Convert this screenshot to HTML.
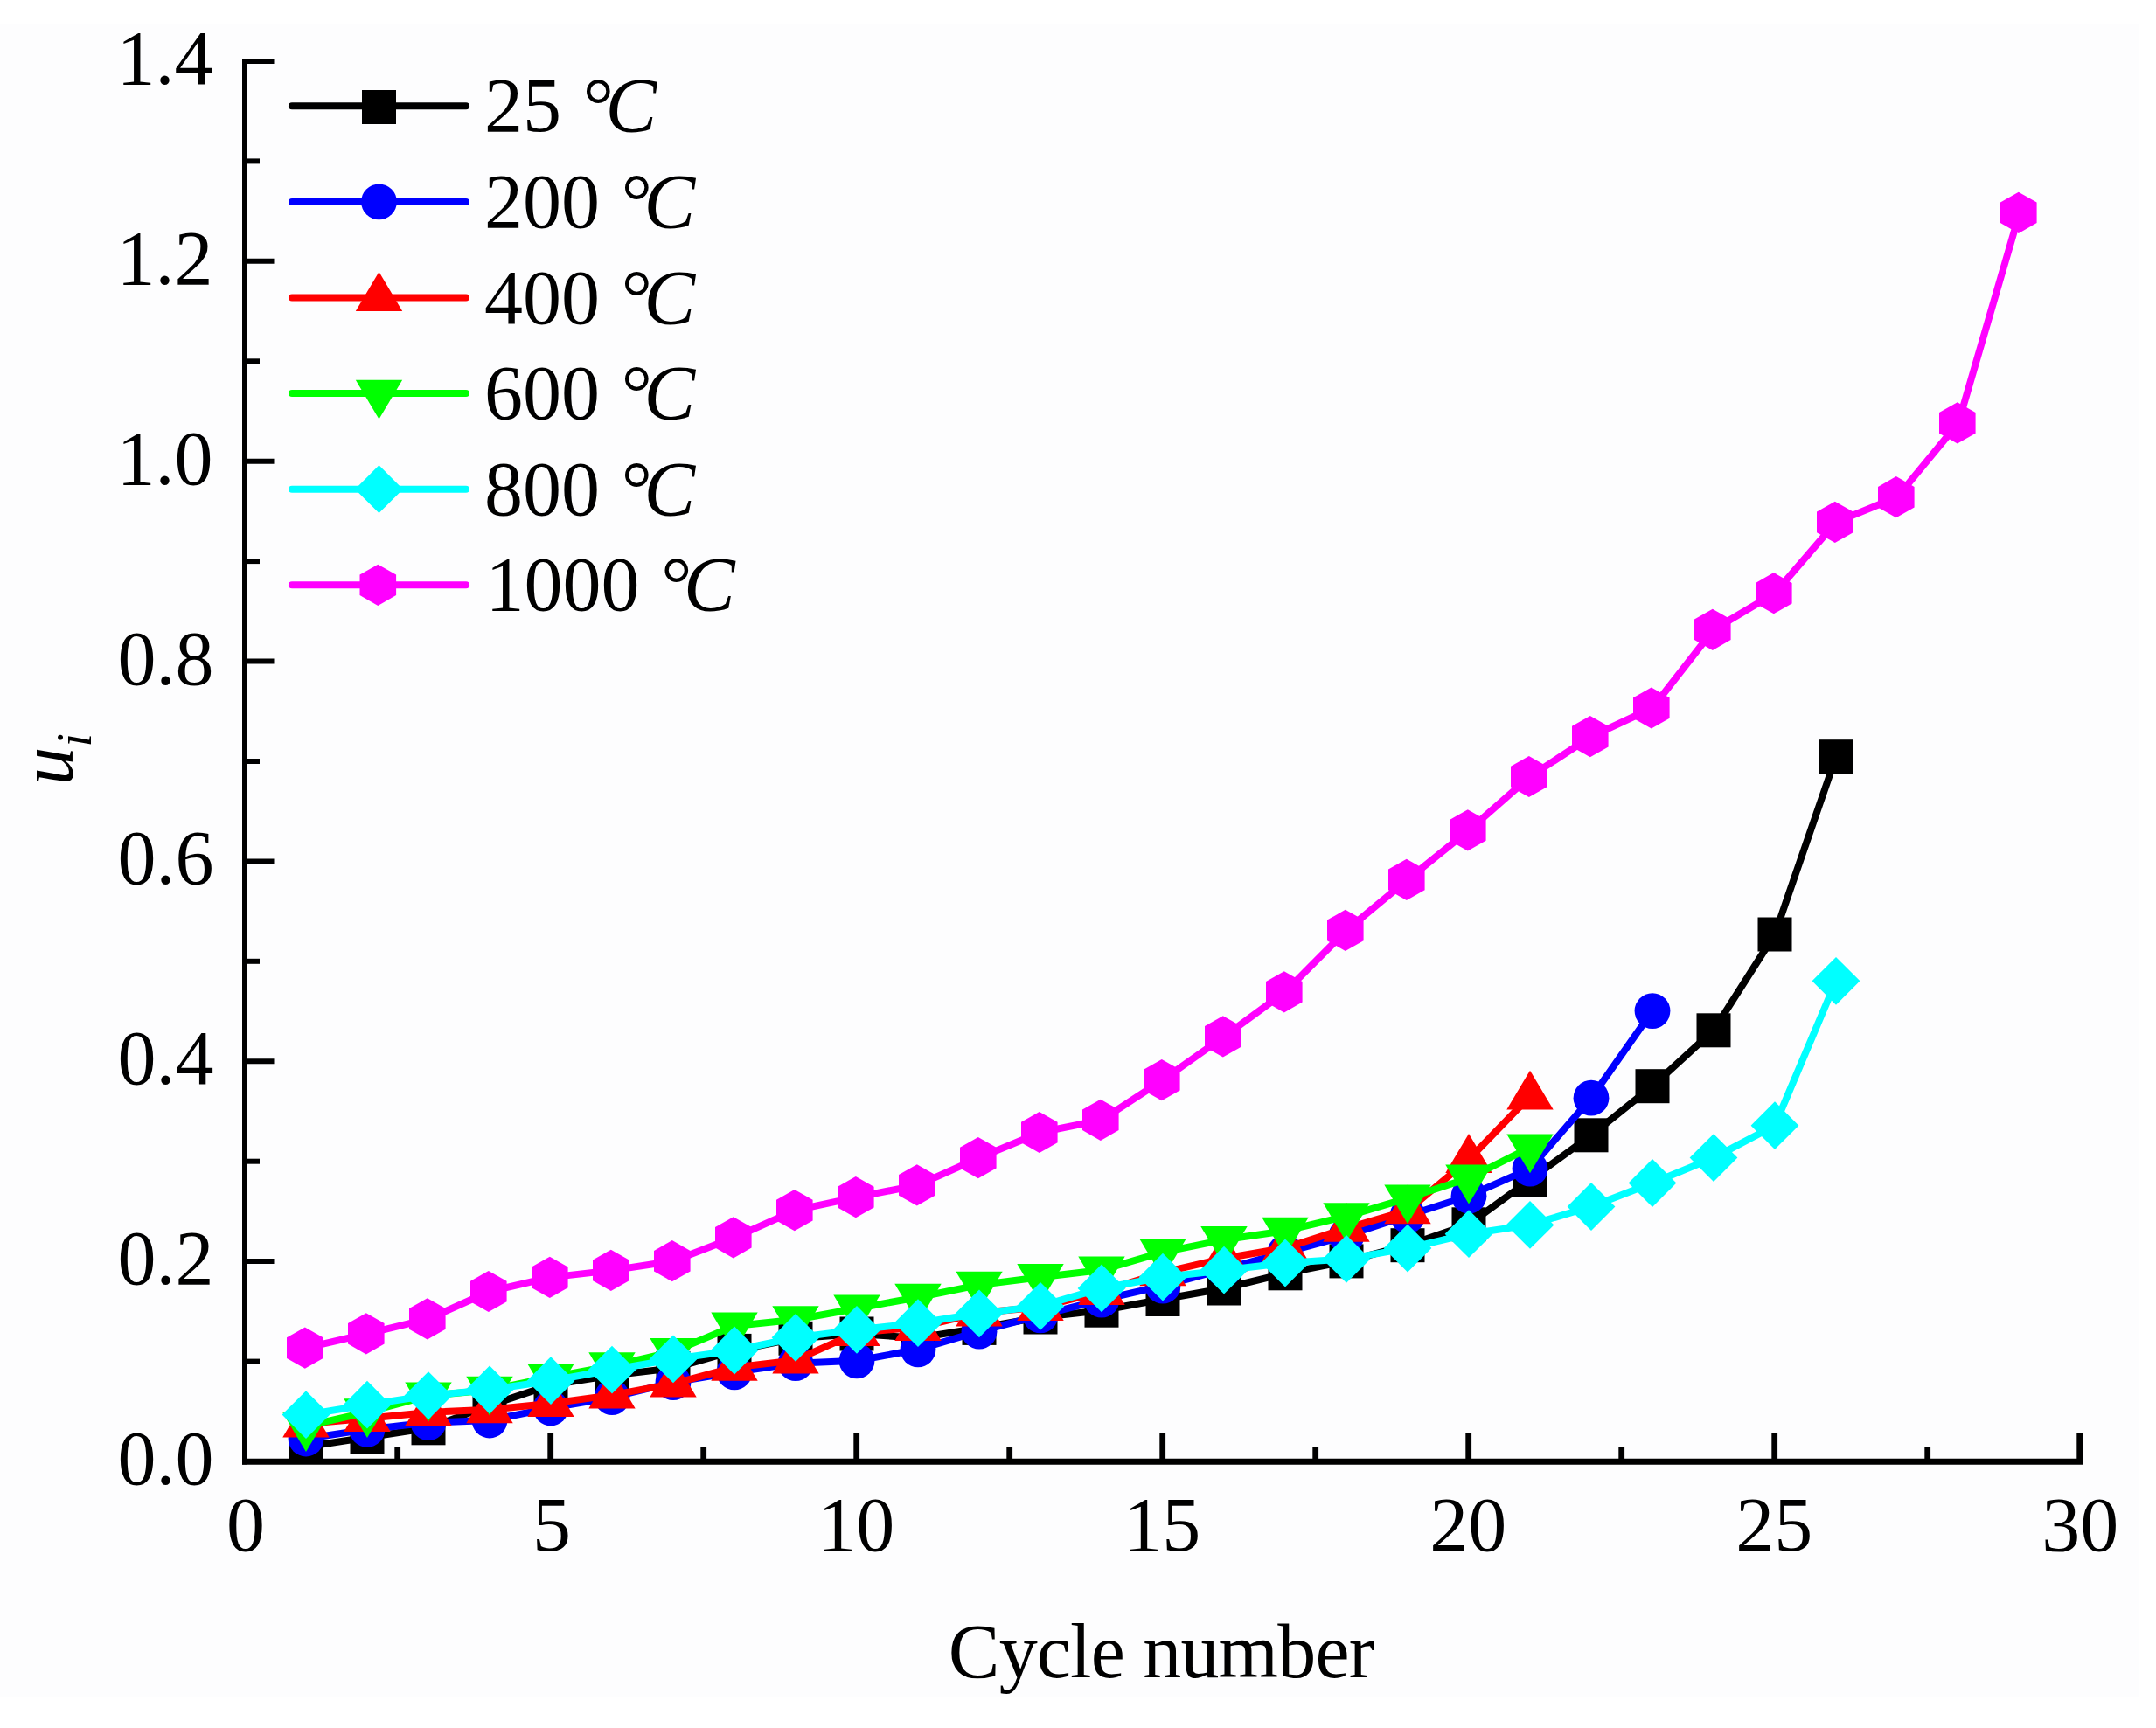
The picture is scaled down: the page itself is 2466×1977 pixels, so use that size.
<!DOCTYPE html>
<html lang="en"><head><meta charset="utf-8"><title>Cycle number vs u_i</title>
<style>
html,body{margin:0;padding:0;background:#ffffff;}
body{width:2466px;height:1977px;overflow:hidden;}
svg{display:block;}
text{font-family:"Liberation Serif",serif;fill:#000;}
.t{font-size:88px;}
.it{font-style:italic;}
</style></head><body>
<svg width="2466" height="1977" viewBox="0 0 2466 1977">
<rect x="0" y="0" width="2466" height="1977" fill="#ffffff"/>
<rect x="0" y="28" width="2446" height="1914" fill="#fdfdfe"/>

<g><polyline points="350.0,1655.2 420.0,1644.5 490.0,1633.8 560.0,1607.9 630.0,1584.5 700.0,1573.5 770.0,1565.4 840.0,1545.4 910.0,1531.3 980.0,1526.0 1050.0,1530.7 1120.0,1519.4 1190.0,1507.0 1260.0,1499.2 1330.0,1486.5 1400.0,1474.0 1470.0,1456.8 1540.0,1442.9 1610.0,1424.7 1680.0,1400.8 1750.0,1349.7 1820.0,1298.8 1890.0,1242.7 1960.0,1178.8 2030.0,1069.0 2100.0,865.7" fill="none" stroke="#000000" stroke-width="8" stroke-linejoin="round" stroke-linecap="round"/>
<rect x="330.5" y="1635.7" width="39.0" height="39.0" fill="#000000"/>
<rect x="400.5" y="1625.0" width="39.0" height="39.0" fill="#000000"/>
<rect x="470.5" y="1614.3" width="39.0" height="39.0" fill="#000000"/>
<rect x="540.5" y="1588.4" width="39.0" height="39.0" fill="#000000"/>
<rect x="610.5" y="1565.0" width="39.0" height="39.0" fill="#000000"/>
<rect x="680.5" y="1554.0" width="39.0" height="39.0" fill="#000000"/>
<rect x="750.5" y="1545.9" width="39.0" height="39.0" fill="#000000"/>
<rect x="820.5" y="1525.9" width="39.0" height="39.0" fill="#000000"/>
<rect x="890.5" y="1511.8" width="39.0" height="39.0" fill="#000000"/>
<rect x="960.5" y="1506.5" width="39.0" height="39.0" fill="#000000"/>
<rect x="1030.5" y="1511.2" width="39.0" height="39.0" fill="#000000"/>
<rect x="1100.5" y="1499.9" width="39.0" height="39.0" fill="#000000"/>
<rect x="1170.5" y="1487.5" width="39.0" height="39.0" fill="#000000"/>
<rect x="1240.5" y="1479.7" width="39.0" height="39.0" fill="#000000"/>
<rect x="1310.5" y="1467.0" width="39.0" height="39.0" fill="#000000"/>
<rect x="1380.5" y="1454.5" width="39.0" height="39.0" fill="#000000"/>
<rect x="1450.5" y="1437.3" width="39.0" height="39.0" fill="#000000"/>
<rect x="1520.5" y="1423.4" width="39.0" height="39.0" fill="#000000"/>
<rect x="1590.5" y="1405.2" width="39.0" height="39.0" fill="#000000"/>
<rect x="1660.5" y="1381.3" width="39.0" height="39.0" fill="#000000"/>
<rect x="1730.5" y="1330.2" width="39.0" height="39.0" fill="#000000"/>
<rect x="1800.5" y="1279.3" width="39.0" height="39.0" fill="#000000"/>
<rect x="1870.5" y="1223.2" width="39.0" height="39.0" fill="#000000"/>
<rect x="1940.5" y="1159.3" width="39.0" height="39.0" fill="#000000"/>
<rect x="2010.5" y="1049.5" width="39.0" height="39.0" fill="#000000"/>
<rect x="2080.5" y="846.2" width="39.0" height="39.0" fill="#000000"/>
</g>
<g><polyline points="350.0,1646.0 420.0,1635.4 490.0,1627.6 560.0,1625.0 630.0,1610.8 700.0,1598.7 770.0,1581.6 840.0,1569.9 910.0,1559.7 980.0,1556.8 1050.0,1543.8 1120.0,1523.2 1190.0,1504.8 1260.0,1487.1 1330.0,1471.1 1400.0,1452.1 1470.0,1432.8 1540.0,1413.7 1610.0,1390.8 1680.0,1368.2 1750.0,1337.1 1820.0,1256.2 1890.0,1156.6" fill="none" stroke="#0000ff" stroke-width="8" stroke-linejoin="round" stroke-linecap="round"/>
<circle cx="350.0" cy="1646.0" r="20.4" fill="#0000ff"/>
<circle cx="420.0" cy="1635.4" r="20.4" fill="#0000ff"/>
<circle cx="490.0" cy="1627.6" r="20.4" fill="#0000ff"/>
<circle cx="560.0" cy="1625.0" r="20.4" fill="#0000ff"/>
<circle cx="630.0" cy="1610.8" r="20.4" fill="#0000ff"/>
<circle cx="700.0" cy="1598.7" r="20.4" fill="#0000ff"/>
<circle cx="770.0" cy="1581.6" r="20.4" fill="#0000ff"/>
<circle cx="840.0" cy="1569.9" r="20.4" fill="#0000ff"/>
<circle cx="910.0" cy="1559.7" r="20.4" fill="#0000ff"/>
<circle cx="980.0" cy="1556.8" r="20.4" fill="#0000ff"/>
<circle cx="1050.0" cy="1543.8" r="20.4" fill="#0000ff"/>
<circle cx="1120.0" cy="1523.2" r="20.4" fill="#0000ff"/>
<circle cx="1190.0" cy="1504.8" r="20.4" fill="#0000ff"/>
<circle cx="1260.0" cy="1487.1" r="20.4" fill="#0000ff"/>
<circle cx="1330.0" cy="1471.1" r="20.4" fill="#0000ff"/>
<circle cx="1400.0" cy="1452.1" r="20.4" fill="#0000ff"/>
<circle cx="1470.0" cy="1432.8" r="20.4" fill="#0000ff"/>
<circle cx="1540.0" cy="1413.7" r="20.4" fill="#0000ff"/>
<circle cx="1610.0" cy="1390.8" r="20.4" fill="#0000ff"/>
<circle cx="1680.0" cy="1368.2" r="20.4" fill="#0000ff"/>
<circle cx="1750.0" cy="1337.1" r="20.4" fill="#0000ff"/>
<circle cx="1820.0" cy="1256.2" r="20.4" fill="#0000ff"/>
<circle cx="1890.0" cy="1156.6" r="20.4" fill="#0000ff"/>
</g>
<g><polyline points="350.0,1629.0 420.0,1622.7 490.0,1615.9 560.0,1612.8 630.0,1605.7 700.0,1596.1 770.0,1583.1 840.0,1564.4 910.0,1556.2 980.0,1524.7 1050.0,1518.5 1120.0,1502.0 1190.0,1495.5 1260.0,1477.6 1330.0,1455.8 1400.0,1439.7 1470.0,1427.7 1540.0,1405.3 1610.0,1384.9 1680.0,1326.5 1750.0,1254.1" fill="none" stroke="#ff0000" stroke-width="8" stroke-linejoin="round" stroke-linecap="round"/>
<polygon points="350.0,1599.6 376.7,1644.4 323.3,1644.4" fill="#ff0000"/>
<polygon points="420.0,1593.3 446.7,1638.1 393.3,1638.1" fill="#ff0000"/>
<polygon points="490.0,1586.5 516.7,1631.3 463.3,1631.3" fill="#ff0000"/>
<polygon points="560.0,1583.4 586.7,1628.2 533.3,1628.2" fill="#ff0000"/>
<polygon points="630.0,1576.3 656.7,1621.1 603.3,1621.1" fill="#ff0000"/>
<polygon points="700.0,1566.7 726.7,1611.5 673.3,1611.5" fill="#ff0000"/>
<polygon points="770.0,1553.7 796.7,1598.5 743.3,1598.5" fill="#ff0000"/>
<polygon points="840.0,1535.0 866.7,1579.8 813.3,1579.8" fill="#ff0000"/>
<polygon points="910.0,1526.8 936.7,1571.6 883.3,1571.6" fill="#ff0000"/>
<polygon points="980.0,1495.3 1006.7,1540.1 953.3,1540.1" fill="#ff0000"/>
<polygon points="1050.0,1489.1 1076.7,1533.9 1023.3,1533.9" fill="#ff0000"/>
<polygon points="1120.0,1472.6 1146.7,1517.4 1093.3,1517.4" fill="#ff0000"/>
<polygon points="1190.0,1466.1 1216.7,1510.9 1163.3,1510.9" fill="#ff0000"/>
<polygon points="1260.0,1448.2 1286.7,1493.0 1233.3,1493.0" fill="#ff0000"/>
<polygon points="1330.0,1426.4 1356.7,1471.2 1303.3,1471.2" fill="#ff0000"/>
<polygon points="1400.0,1410.3 1426.7,1455.1 1373.3,1455.1" fill="#ff0000"/>
<polygon points="1470.0,1398.3 1496.7,1443.1 1443.3,1443.1" fill="#ff0000"/>
<polygon points="1540.0,1375.9 1566.7,1420.7 1513.3,1420.7" fill="#ff0000"/>
<polygon points="1610.0,1355.5 1636.7,1400.3 1583.3,1400.3" fill="#ff0000"/>
<polygon points="1680.0,1297.1 1706.7,1341.9 1653.3,1341.9" fill="#ff0000"/>
<polygon points="1750.0,1224.7 1776.7,1269.5 1723.3,1269.5" fill="#ff0000"/>
</g>
<g><polyline points="350.0,1631.6 420.0,1615.6 490.0,1597.0 560.0,1590.2 630.0,1575.6 700.0,1562.7 770.0,1546.4 840.0,1516.9 910.0,1509.7 980.0,1497.0 1050.0,1484.2 1120.0,1470.1 1190.0,1461.3 1260.0,1453.0 1330.0,1432.7 1400.0,1418.3 1470.0,1408.2 1540.0,1391.6 1610.0,1370.8 1680.0,1348.0 1750.0,1312.9" fill="none" stroke="#00ff00" stroke-width="8" stroke-linejoin="round" stroke-linecap="round"/>
<polygon points="350.0,1661.0 376.7,1616.2 323.3,1616.2" fill="#00ff00"/>
<polygon points="420.0,1645.0 446.7,1600.2 393.3,1600.2" fill="#00ff00"/>
<polygon points="490.0,1626.4 516.7,1581.6 463.3,1581.6" fill="#00ff00"/>
<polygon points="560.0,1619.6 586.7,1574.8 533.3,1574.8" fill="#00ff00"/>
<polygon points="630.0,1605.0 656.7,1560.2 603.3,1560.2" fill="#00ff00"/>
<polygon points="700.0,1592.1 726.7,1547.3 673.3,1547.3" fill="#00ff00"/>
<polygon points="770.0,1575.8 796.7,1531.0 743.3,1531.0" fill="#00ff00"/>
<polygon points="840.0,1546.3 866.7,1501.5 813.3,1501.5" fill="#00ff00"/>
<polygon points="910.0,1539.1 936.7,1494.3 883.3,1494.3" fill="#00ff00"/>
<polygon points="980.0,1526.4 1006.7,1481.6 953.3,1481.6" fill="#00ff00"/>
<polygon points="1050.0,1513.6 1076.7,1468.8 1023.3,1468.8" fill="#00ff00"/>
<polygon points="1120.0,1499.5 1146.7,1454.7 1093.3,1454.7" fill="#00ff00"/>
<polygon points="1190.0,1490.7 1216.7,1445.9 1163.3,1445.9" fill="#00ff00"/>
<polygon points="1260.0,1482.4 1286.7,1437.6 1233.3,1437.6" fill="#00ff00"/>
<polygon points="1330.0,1462.1 1356.7,1417.3 1303.3,1417.3" fill="#00ff00"/>
<polygon points="1400.0,1447.7 1426.7,1402.9 1373.3,1402.9" fill="#00ff00"/>
<polygon points="1470.0,1437.6 1496.7,1392.8 1443.3,1392.8" fill="#00ff00"/>
<polygon points="1540.0,1421.0 1566.7,1376.2 1513.3,1376.2" fill="#00ff00"/>
<polygon points="1610.0,1400.2 1636.7,1355.4 1583.3,1355.4" fill="#00ff00"/>
<polygon points="1680.0,1377.4 1706.7,1332.6 1653.3,1332.6" fill="#00ff00"/>
<polygon points="1750.0,1342.3 1776.7,1297.5 1723.3,1297.5" fill="#00ff00"/>
</g>
<g><polyline points="350.0,1618.6 420.0,1607.2 490.0,1596.6 560.0,1590.0 630.0,1579.7 700.0,1567.2 770.0,1554.9 840.0,1545.0 910.0,1530.3 980.0,1521.4 1050.0,1513.7 1120.0,1502.8 1190.0,1494.4 1260.0,1473.9 1330.0,1461.2 1400.0,1453.2 1470.0,1445.0 1540.0,1440.4 1610.0,1428.1 1680.0,1411.7 1750.0,1401.4 1820.0,1380.5 1890.0,1353.5 1960.0,1324.6 2030.0,1287.7 2100.0,1122.3" fill="none" stroke="#00ffff" stroke-width="8" stroke-linejoin="round" stroke-linecap="round"/>
<polygon points="350.0,1591.2 377.4,1618.6 350.0,1646.0 322.6,1618.6" fill="#00ffff"/>
<polygon points="420.0,1579.8 447.4,1607.2 420.0,1634.6 392.6,1607.2" fill="#00ffff"/>
<polygon points="490.0,1569.2 517.4,1596.6 490.0,1624.0 462.6,1596.6" fill="#00ffff"/>
<polygon points="560.0,1562.6 587.4,1590.0 560.0,1617.4 532.6,1590.0" fill="#00ffff"/>
<polygon points="630.0,1552.3 657.4,1579.7 630.0,1607.1 602.6,1579.7" fill="#00ffff"/>
<polygon points="700.0,1539.8 727.4,1567.2 700.0,1594.6 672.6,1567.2" fill="#00ffff"/>
<polygon points="770.0,1527.5 797.4,1554.9 770.0,1582.3 742.6,1554.9" fill="#00ffff"/>
<polygon points="840.0,1517.6 867.4,1545.0 840.0,1572.4 812.6,1545.0" fill="#00ffff"/>
<polygon points="910.0,1502.9 937.4,1530.3 910.0,1557.7 882.6,1530.3" fill="#00ffff"/>
<polygon points="980.0,1494.0 1007.4,1521.4 980.0,1548.8 952.6,1521.4" fill="#00ffff"/>
<polygon points="1050.0,1486.3 1077.4,1513.7 1050.0,1541.1 1022.6,1513.7" fill="#00ffff"/>
<polygon points="1120.0,1475.4 1147.4,1502.8 1120.0,1530.2 1092.6,1502.8" fill="#00ffff"/>
<polygon points="1190.0,1467.0 1217.4,1494.4 1190.0,1521.8 1162.6,1494.4" fill="#00ffff"/>
<polygon points="1260.0,1446.5 1287.4,1473.9 1260.0,1501.3 1232.6,1473.9" fill="#00ffff"/>
<polygon points="1330.0,1433.8 1357.4,1461.2 1330.0,1488.6 1302.6,1461.2" fill="#00ffff"/>
<polygon points="1400.0,1425.8 1427.4,1453.2 1400.0,1480.6 1372.6,1453.2" fill="#00ffff"/>
<polygon points="1470.0,1417.6 1497.4,1445.0 1470.0,1472.4 1442.6,1445.0" fill="#00ffff"/>
<polygon points="1540.0,1413.0 1567.4,1440.4 1540.0,1467.8 1512.6,1440.4" fill="#00ffff"/>
<polygon points="1610.0,1400.7 1637.4,1428.1 1610.0,1455.5 1582.6,1428.1" fill="#00ffff"/>
<polygon points="1680.0,1384.3 1707.4,1411.7 1680.0,1439.1 1652.6,1411.7" fill="#00ffff"/>
<polygon points="1750.0,1374.0 1777.4,1401.4 1750.0,1428.8 1722.6,1401.4" fill="#00ffff"/>
<polygon points="1820.0,1353.1 1847.4,1380.5 1820.0,1407.9 1792.6,1380.5" fill="#00ffff"/>
<polygon points="1890.0,1326.1 1917.4,1353.5 1890.0,1380.9 1862.6,1353.5" fill="#00ffff"/>
<polygon points="1960.0,1297.2 1987.4,1324.6 1960.0,1352.0 1932.6,1324.6" fill="#00ffff"/>
<polygon points="2030.0,1260.3 2057.4,1287.7 2030.0,1315.1 2002.6,1287.7" fill="#00ffff"/>
<polygon points="2100.0,1094.9 2127.4,1122.3 2100.0,1149.7 2072.6,1122.3" fill="#00ffff"/>
</g>
<g><polyline points="350.0,1542.1 420.0,1525.8 490.0,1508.9 560.0,1477.5 630.0,1461.4 700.0,1453.4 770.0,1442.7 840.0,1415.8 910.0,1384.6 980.0,1369.6 1050.0,1355.9 1120.0,1324.6 1190.0,1295.5 1260.0,1281.3 1330.0,1235.6 1400.0,1185.9 1470.0,1134.8 1540.0,1064.4 1610.0,1006.4 1680.0,949.9 1750.0,888.5 1820.0,842.6 1890.0,810.0 1960.0,720.3 2030.0,678.7 2100.0,597.4 2170.0,568.7 2240.0,483.9 2310.0,243.3" fill="none" stroke="#ff00ff" stroke-width="8" stroke-linejoin="round" stroke-linecap="round"/>
<polygon points="348.8,1518.5 369.6,1530.3 369.6,1553.9 348.8,1565.7 328.0,1553.9 328.0,1530.3" fill="#ff00ff"/>
<polygon points="418.8,1502.2 439.6,1514.0 439.6,1537.6 418.8,1549.4 398.0,1537.6 398.0,1514.0" fill="#ff00ff"/>
<polygon points="488.8,1485.3 509.6,1497.1 509.6,1520.7 488.8,1532.5 468.0,1520.7 468.0,1497.1" fill="#ff00ff"/>
<polygon points="558.8,1453.9 579.6,1465.7 579.6,1489.3 558.8,1501.1 538.0,1489.3 538.0,1465.7" fill="#ff00ff"/>
<polygon points="628.8,1437.8 649.6,1449.6 649.6,1473.2 628.8,1485.0 608.0,1473.2 608.0,1449.6" fill="#ff00ff"/>
<polygon points="698.8,1429.8 719.6,1441.6 719.6,1465.2 698.8,1477.0 678.0,1465.2 678.0,1441.6" fill="#ff00ff"/>
<polygon points="768.8,1419.1 789.6,1430.9 789.6,1454.5 768.8,1466.3 748.0,1454.5 748.0,1430.9" fill="#ff00ff"/>
<polygon points="838.8,1392.2 859.6,1404.0 859.6,1427.6 838.8,1439.4 818.0,1427.6 818.0,1404.0" fill="#ff00ff"/>
<polygon points="908.8,1361.0 929.6,1372.8 929.6,1396.4 908.8,1408.2 888.0,1396.4 888.0,1372.8" fill="#ff00ff"/>
<polygon points="978.8,1346.0 999.6,1357.8 999.6,1381.4 978.8,1393.2 958.0,1381.4 958.0,1357.8" fill="#ff00ff"/>
<polygon points="1048.8,1332.3 1069.6,1344.1 1069.6,1367.7 1048.8,1379.5 1028.0,1367.7 1028.0,1344.1" fill="#ff00ff"/>
<polygon points="1118.8,1301.0 1139.6,1312.8 1139.6,1336.4 1118.8,1348.2 1098.0,1336.4 1098.0,1312.8" fill="#ff00ff"/>
<polygon points="1188.8,1271.9 1209.6,1283.7 1209.6,1307.3 1188.8,1319.1 1168.0,1307.3 1168.0,1283.7" fill="#ff00ff"/>
<polygon points="1258.8,1257.7 1279.6,1269.5 1279.6,1293.1 1258.8,1304.9 1238.0,1293.1 1238.0,1269.5" fill="#ff00ff"/>
<polygon points="1328.8,1212.0 1349.6,1223.8 1349.6,1247.4 1328.8,1259.2 1308.0,1247.4 1308.0,1223.8" fill="#ff00ff"/>
<polygon points="1398.8,1162.3 1419.6,1174.1 1419.6,1197.7 1398.8,1209.5 1378.0,1197.7 1378.0,1174.1" fill="#ff00ff"/>
<polygon points="1468.8,1111.2 1489.6,1123.0 1489.6,1146.6 1468.8,1158.4 1448.0,1146.6 1448.0,1123.0" fill="#ff00ff"/>
<polygon points="1538.8,1040.8 1559.6,1052.6 1559.6,1076.2 1538.8,1088.0 1518.0,1076.2 1518.0,1052.6" fill="#ff00ff"/>
<polygon points="1608.8,982.8 1629.6,994.6 1629.6,1018.2 1608.8,1030.0 1588.0,1018.2 1588.0,994.6" fill="#ff00ff"/>
<polygon points="1678.8,926.3 1699.6,938.1 1699.6,961.7 1678.8,973.5 1658.0,961.7 1658.0,938.1" fill="#ff00ff"/>
<polygon points="1748.8,864.9 1769.6,876.7 1769.6,900.3 1748.8,912.1 1728.0,900.3 1728.0,876.7" fill="#ff00ff"/>
<polygon points="1818.8,819.0 1839.6,830.8 1839.6,854.4 1818.8,866.2 1798.0,854.4 1798.0,830.8" fill="#ff00ff"/>
<polygon points="1888.8,786.4 1909.6,798.2 1909.6,821.8 1888.8,833.6 1868.0,821.8 1868.0,798.2" fill="#ff00ff"/>
<polygon points="1958.8,696.7 1979.6,708.5 1979.6,732.1 1958.8,743.9 1938.0,732.1 1938.0,708.5" fill="#ff00ff"/>
<polygon points="2028.8,655.1 2049.6,666.9 2049.6,690.5 2028.8,702.3 2008.0,690.5 2008.0,666.9" fill="#ff00ff"/>
<polygon points="2098.8,573.8 2119.6,585.6 2119.6,609.2 2098.8,621.0 2078.0,609.2 2078.0,585.6" fill="#ff00ff"/>
<polygon points="2168.8,545.1 2189.6,556.9 2189.6,580.5 2168.8,592.3 2148.0,580.5 2148.0,556.9" fill="#ff00ff"/>
<polygon points="2238.8,460.3 2259.6,472.1 2259.6,495.7 2238.8,507.5 2218.0,495.7 2218.0,472.1" fill="#ff00ff"/>
<polygon points="2308.8,219.7 2329.6,231.5 2329.6,255.1 2308.8,266.9 2288.0,255.1 2288.0,231.5" fill="#ff00ff"/>
</g>
<g stroke="#000" stroke-width="6" fill="none" stroke-linecap="butt">
<line x1="279.9" y1="67.2" x2="279.9" y2="1675.5" stroke-width="5.8"/>
<line x1="277.0" y1="1672.2" x2="2382" y2="1672.3" stroke-width="7"/>
<line x1="280.0" y1="1557.6" x2="297.0" y2="1557.6"/>
<line x1="280.0" y1="1443.1" x2="313.5" y2="1443.1"/>
<line x1="280.0" y1="1328.7" x2="297.0" y2="1328.7"/>
<line x1="280.0" y1="1214.3" x2="313.5" y2="1214.3"/>
<line x1="280.0" y1="1099.8" x2="297.0" y2="1099.8"/>
<line x1="280.0" y1="985.4" x2="313.5" y2="985.4"/>
<line x1="280.0" y1="871.0" x2="297.0" y2="871.0"/>
<line x1="280.0" y1="756.6" x2="313.5" y2="756.6"/>
<line x1="280.0" y1="642.1" x2="297.0" y2="642.1"/>
<line x1="280.0" y1="527.7" x2="313.5" y2="527.7"/>
<line x1="280.0" y1="413.3" x2="297.0" y2="413.3"/>
<line x1="280.0" y1="298.8" x2="313.5" y2="298.8"/>
<line x1="280.0" y1="184.4" x2="297.0" y2="184.4"/>
<line x1="280.0" y1="70.0" x2="313.5" y2="70.0"/>
<line x1="454.7" y1="1672.0" x2="454.7" y2="1655.8" stroke-width="6.8"/>
<line x1="629.7" y1="1672.0" x2="629.7" y2="1639.3" stroke-width="6.8"/>
<line x1="804.7" y1="1672.0" x2="804.7" y2="1655.8" stroke-width="6.8"/>
<line x1="979.7" y1="1672.0" x2="979.7" y2="1639.3" stroke-width="6.8"/>
<line x1="1154.7" y1="1672.0" x2="1154.7" y2="1655.8" stroke-width="6.8"/>
<line x1="1329.7" y1="1672.0" x2="1329.7" y2="1639.3" stroke-width="6.8"/>
<line x1="1504.7" y1="1672.0" x2="1504.7" y2="1655.8" stroke-width="6.8"/>
<line x1="1679.7" y1="1672.0" x2="1679.7" y2="1639.3" stroke-width="6.8"/>
<line x1="1854.7" y1="1672.0" x2="1854.7" y2="1655.8" stroke-width="6.8"/>
<line x1="2029.7" y1="1672.0" x2="2029.7" y2="1639.3" stroke-width="6.8"/>
<line x1="2204.7" y1="1672.0" x2="2204.7" y2="1655.8" stroke-width="6.8"/>
<line x1="2378.7" y1="1672.0" x2="2378.7" y2="1639.3" stroke-width="6.8"/>
</g>
<text class="t" x="244.4" y="1697.9" text-anchor="end">0.0</text>
<text class="t" x="244.4" y="1469.0" text-anchor="end">0.2</text>
<text class="t" x="244.4" y="1240.2" text-anchor="end">0.4</text>
<text class="t" x="244.4" y="1011.3" text-anchor="end">0.6</text>
<text class="t" x="244.4" y="782.5" text-anchor="end">0.8</text>
<text class="t" x="243.4" y="553.6" text-anchor="end">1.0</text>
<text class="t" x="243.4" y="324.7" text-anchor="end">1.2</text>
<text class="t" x="243.4" y="95.9" text-anchor="end">1.4</text>
<text class="t" x="281.0" y="1773.6" text-anchor="middle">0</text>
<text class="t" x="631.0" y="1773.6" text-anchor="middle">5</text>
<text class="t" x="979.3" y="1773.6" text-anchor="middle">10</text>
<text class="t" x="1329.3" y="1773.6" text-anchor="middle">15</text>
<text class="t" x="1679.3" y="1773.6" text-anchor="middle">20</text>
<text class="t" x="2029.3" y="1773.6" text-anchor="middle">25</text>
<text class="t" x="2379.3" y="1773.6" text-anchor="middle">30</text>
<text class="t" x="1328" y="1919" text-anchor="middle" letter-spacing="-0.8">Cycle number</text>
<text class="t it" transform="translate(83,898.5) rotate(-90)">u<tspan font-size="56" dy="21">i</tspan></text>
<line x1="334" y1="121.3" x2="533" y2="121.3" stroke="#000000" stroke-width="8" stroke-linecap="round"/>
<rect x="414.0" y="103.0" width="39.0" height="39.0" fill="#000000"/>
<text class="t" x="554" y="150.3">25 <tspan dx="2.7">°</tspan><tspan class="it" dx="-9.4">C</tspan></text>
<line x1="334" y1="230.9" x2="533" y2="230.9" stroke="#0000ff" stroke-width="8" stroke-linecap="round"/>
<circle cx="433.5" cy="230.9" r="20.4" fill="#0000ff"/>
<text class="t" x="554" y="259.9">200 <tspan dx="2.7">°</tspan><tspan class="it" dx="-9.4">C</tspan></text>
<line x1="334" y1="340.5" x2="533" y2="340.5" stroke="#ff0000" stroke-width="8" stroke-linecap="round"/>
<polygon points="433.5,311.1 460.2,355.9 406.8,355.9" fill="#ff0000"/>
<text class="t" x="554" y="369.5">400 <tspan dx="2.7">°</tspan><tspan class="it" dx="-9.4">C</tspan></text>
<line x1="334" y1="450.1" x2="533" y2="450.1" stroke="#00ff00" stroke-width="8" stroke-linecap="round"/>
<polygon points="433.5,479.5 460.2,434.7 406.8,434.7" fill="#00ff00"/>
<text class="t" x="554" y="479.1">600 <tspan dx="2.7">°</tspan><tspan class="it" dx="-9.4">C</tspan></text>
<line x1="334" y1="559.7" x2="533" y2="559.7" stroke="#00ffff" stroke-width="8" stroke-linecap="round"/>
<polygon points="433.5,532.3 460.9,559.7 433.5,587.1 406.1,559.7" fill="#00ffff"/>
<text class="t" x="554" y="588.7">800 <tspan dx="2.7">°</tspan><tspan class="it" dx="-9.4">C</tspan></text>
<line x1="334" y1="669.3" x2="533" y2="669.3" stroke="#ff00ff" stroke-width="8" stroke-linecap="round"/>
<polygon points="432.3,645.7 453.1,657.5 453.1,681.1 432.3,692.9 411.5,681.1 411.5,657.5" fill="#ff00ff"/>
<text class="t" x="555.5" y="698.3">1000 <tspan dx="2.7">°</tspan><tspan class="it" dx="-9.4">C</tspan></text>
</svg>
</body></html>
